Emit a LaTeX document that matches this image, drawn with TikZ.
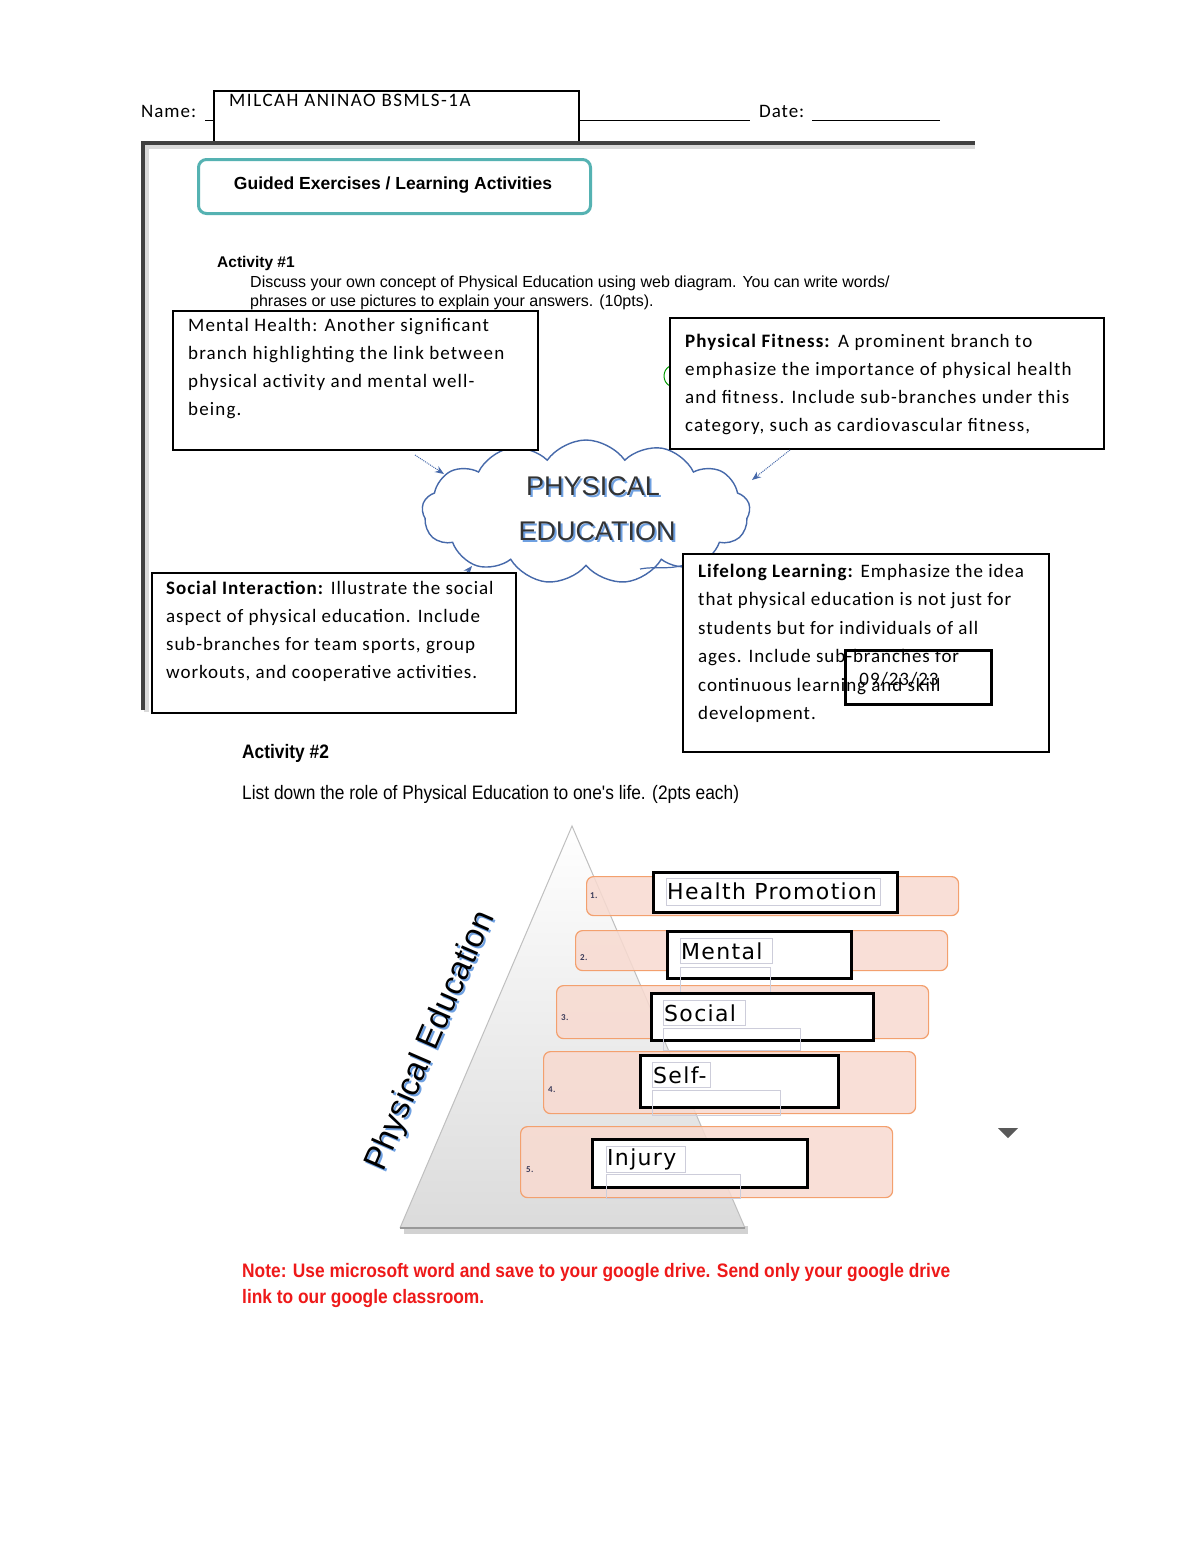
\documentclass[tikz,border=0pt]{standalone}
\usepackage{fontspec}
\setmainfont{Carlito}[LetterSpace=5]
\newfontfamily\wideCal[LetterSpace=6]{Carlito}
\newfontfamily\namefont[LetterSpace=8]{Carlito}
\newfontfamily\arialn[FakeStretch=0.89]{Liberation Sans}
\newfontfamily\arial{Liberation Sans}
\newfontfamily\dejav[LetterSpace=6]{DejaVu Sans}
\usetikzlibrary{shapes.symbols,arrows.meta}
\definecolor{teal1}{RGB}{85,178,178}
\definecolor{cloudblue}{RGB}{70,105,170}
\definecolor{shadowblue}{RGB}{110,160,225}
\definecolor{barfill}{RGB}{248,218,208}
\definecolor{barline}{RGB}{243,160,110}
\definecolor{framegray}{RGB}{205,205,218}
\definecolor{notered}{RGB}{238,25,25}
\definecolor{numblue}{RGB}{60,60,90}
\tikzset{
  wbox/.style={draw=black, line width=2.6pt, fill=white, anchor=north west, inner sep=0, outer sep=0},
  txt/.style={anchor=north west, inner sep=0, align=left, font=\fontsize{19}{28}\selectfont},
  bar/.style={draw=barline, line width=1.2pt, fill=barfill, fill opacity=0.85, rounded corners=7pt, anchor=north west, inner sep=0},
  ansbox/.style={draw=black, line width=2.6pt, fill=white, anchor=north west, inner sep=0},
  gframe/.style={draw=framegray, line width=1.3pt, anchor=north west, inner sep=0},
  anstxt/.style={anchor=west, inner sep=0, font=\dejav\fontsize{22}{24}\selectfont},
  num/.style={anchor=west, inner sep=0, font=\fontsize{9}{10}\selectfont\bfseries, text=numblue},
  dotarrow/.style={draw=cloudblue, densely dotted, line width=1pt, -{Stealth[length=9pt,width=7pt]}}
}
\begin{document}
\begin{tikzpicture}[x=1pt,y=-1pt]
\useasboundingbox[fill=white] (0,0) rectangle (1200,1553);

% header
\node[anchor=base west, inner sep=0, font=\fontsize{19}{20}\selectfont] (namelbl) at (141,117) {Name:};
\coordinate (nl1) at (205,120);
\coordinate (nl2) at (750,120);
\draw[line width=1pt] (nl1) -- (nl2);
\node[anchor=base west, inner sep=0, font=\fontsize{19}{20}\selectfont] (datelbl) at (759,117) {Date:};
\coordinate (dl1) at (812,120);
\coordinate (dl2) at (940,120);
\draw[line width=1pt] (dl1) -- (dl2);
\node[wbox, minimum width=365pt, minimum height=56pt] (namebox) at (214,91) {};
\node[anchor=north west, inner sep=0, font=\namefont\fontsize{19}{20}\selectfont] (nametxt) at (229,94) {MILCAH ANINAO BSMLS-1A};

% page border
\coordinate (pb1) at (143,710);
\coordinate (pb2) at (143,143);
\coordinate (pb3) at (975,143);
\draw[line width=5pt, gray!30] (146,712) -- (146,146) -- (975,146);
\draw[line width=3.5pt, black!75] (pb1) -- (pb2) -- (pb3);

% heading
\node[draw=teal1, line width=3pt, rounded corners=8pt, anchor=north west, minimum width=392pt, minimum height=54pt, inner sep=0] (head) at (197,158) {};
\node[inner sep=0, font=\arial\bfseries\fontsize{17.5}{20}\selectfont] (headtxt) at (393,185) {Guided Exercises / Learning Activities};

% activity 1
\node[anchor=base west, inner sep=0, font=\arial\bfseries\fontsize{15.5}{18}\selectfont] (act1) at (217,267) {Activity \#1};
\node[anchor=base west, inner sep=0, font=\arial\fontsize{16}{18}\selectfont] (act1a) at (250,287) {Discuss your own concept of Physical Education using web diagram. You can write words/};
\node[anchor=base west, inner sep=0, font=\arial\fontsize{16}{18}\selectfont] (act1b) at (250,306) {phrases or use pictures to explain your answers. (10pts).};

% cloud
\node[cloud, cloud puffs=13, cloud puff arc=110, draw=cloudblue, line width=1.4pt, fill=white, minimum width=328pt, minimum height=144pt, inner sep=0] (cloud) at (586,512) {};
\node[inner sep=0, font=\arial\fontsize{27}{30}\selectfont, text=shadowblue] at (595,488) {PHYSICAL};
\node[inner sep=0, font=\arial\fontsize{27}{30}\selectfont, text=black!80] (pe1) at (593,486) {PHYSICAL};
\node[inner sep=0, font=\arial\fontsize{27}{30}\selectfont, text=shadowblue] at (599,533) {EDUCATION};
\node[inner sep=0, font=\arial\fontsize{27}{30}\selectfont, text=black!80] (pe2) at (597,531) {EDUCATION};

% green arc
\coordinate (ga1) at (670,366);
\coordinate (ga2) at (670,386);
\draw[green!60!black, line width=1pt] (ga1) .. controls (662,370) and (662,382) .. (ga2);

% mental health
\node[wbox, minimum width=365pt, minimum height=139pt] (mh) at (173,311) {};
\node[txt, font=\wideCal\fontsize{19}{28}\selectfont] (mhtxt) at (188,318) {Mental Health: Another significant\\branch highlighting the link between\\physical activity and mental well-\\being.};

% physical fitness
\node[wbox, minimum width=434pt, minimum height=131pt] (pf) at (670,318) {};
\node[txt, font=\wideCal\fontsize{19}{28}\selectfont] (pftxt) at (685,334) {\textbf{Physical Fitness:} A prominent branch to\\emphasize the importance of physical health\\and fitness. Include sub-branches under this\\category, such as cardiovascular fitness,};

% arrows to cloud
\coordinate (a1s) at (415,455);
\coordinate (a1e) at (444,474);
\draw[dotarrow] (a1s) -- (a1e);
\coordinate (a2s) at (790,450);
\coordinate (a2e) at (752,480);
\draw[dotarrow] (a2s) -- (a2e);
\coordinate (a3s) at (462,578);
\coordinate (a3e) at (472,566);
\draw[dotarrow] (a3s) -- (a3e);
\coordinate (l1) at (640,569);
\coordinate (l2) at (684,565);
\draw[cloudblue, line width=1.2pt] (l1) .. controls (655,566) and (668,570) .. (l2);

% social interaction
\node[wbox, minimum width=364pt, minimum height=140pt] (si) at (152,573) {};
\node[txt] (sitxt) at (166,581) {\textbf{Social Interaction:} Illustrate the social\\aspect of physical education. Include\\sub-branches for team sports, group\\workouts, and cooperative activities.};

% lifelong learning
\node[wbox, minimum width=366pt, minimum height=198pt] (ll) at (683,554) {};
\node[txt, font=\fontsize{19}{28.4}\selectfont] (lltxt) at (698,564) {\textbf{Lifelong Learning:} Emphasize the idea\\that physical education is not just for\\students but for individuals of all\\ages. Include sub-branches for\\continuous learning and skill\\development.};
\node[draw=black, line width=2.6pt, anchor=north west, minimum width=146pt, minimum height=54pt, inner sep=0] (datebox) at (844,649) {};
\node[inner sep=0, font=\fontsize{19}{20}\selectfont] (datetxt) at (899,679) {09/23/23};

% activity 2
\node[anchor=base west, inner sep=0, font=\arialn\bfseries\fontsize{19.5}{22}\selectfont] (act2) at (242,758) {Activity \#2};
\node[anchor=base west, inner sep=0, font=\arialn\fontsize{19.5}{22}\selectfont] (act2a) at (242,799) {List down the role of Physical Education to one's life. (2pts each)};

% pyramid
\coordinate (apex) at (572,826);
\coordinate (bl) at (400,1228);
\coordinate (br) at (745,1228);
\fill[gray!35] (404,1226) -- (748,1226) -- (748,1234) -- (404,1234) -- cycle;
\shade[top color=white, bottom color=black!14] (apex) -- (br) -- (bl) -- cycle;
\draw[black!25, line width=1pt] (bl) -- (apex) -- (br);
\draw[black!40, line width=1.5pt] (bl) -- (br);
\node[inner sep=0, rotate=66.5, font=\arial\fontsize{33}{36}\selectfont, text=shadowblue] at (433,1043) {Physical Education};
\node[inner sep=0, rotate=66.5, font=\arial\fontsize{33}{36}\selectfont] (pyrtxt) at (431,1041) {Physical Education};

% bars
\node[bar, minimum width=372pt, minimum height=39pt] (b1) at (586,876) {};
\node[bar, minimum width=372pt, minimum height=40pt] (b2) at (575,930) {};
\node[bar, minimum width=372pt, minimum height=53pt] (b3) at (556,985) {};
\node[bar, minimum width=372pt, minimum height=62pt] (b4) at (543,1051) {};
\node[bar, minimum width=372pt, minimum height=71pt] (b5) at (520,1126) {};
\node[num] at (590,896) {1.};
\node[num] at (580,958) {2.};
\node[num] at (561,1018) {3.};
\node[num] at (548,1090) {4.};
\node[num] at (526,1170) {5.};

% answer boxes
\node[ansbox, minimum width=244pt, minimum height=40pt] (ab1) at (652,871) {};
\node[gframe, minimum width=214pt, minimum height=27pt] (gf1) at (666,878) {};
\node[anstxt] (t1) at (667,891) {Health Promotion};

\node[ansbox, minimum width=184pt, minimum height=47pt] (ab2) at (666,930) {};
\node[gframe, minimum width=92pt, minimum height=25pt] (gf2) at (680,938) {};
\node[gframe, minimum width=90pt, minimum height=25pt] (gf2b) at (680,967) {};
\node[anstxt] (t2) at (681,951) {Mental};

\node[ansbox, minimum width=222pt, minimum height=47pt] (ab3) at (650,992) {};
\node[gframe, minimum width=82pt, minimum height=25pt] (gf3) at (663,1000) {};
\node[gframe, minimum width=137pt, minimum height=22pt] (gf3b) at (663,1028) {};
\node[anstxt] (t3) at (664,1013) {Social};

\node[ansbox, minimum width=198pt, minimum height=52pt] (ab4) at (639,1054) {};
\node[gframe, minimum width=58pt, minimum height=25pt] (gf4) at (652,1062) {};
\node[gframe, minimum width=128pt, minimum height=25pt] (gf4b) at (652,1090) {};
\node[anstxt] (t4) at (653,1075) {Self-};

\node[ansbox, minimum width=215pt, minimum height=48pt] (ab5) at (591,1138) {};
\node[gframe, minimum width=79pt, minimum height=26pt] (gf5) at (606,1146) {};
\node[gframe, minimum width=134pt, minimum height=24pt] (gf5b) at (606,1174) {};
\node[anstxt] (t5) at (607,1159) {Injury};

% small triangle
\coordinate (tr1) at (998,1128);
\coordinate (tr2) at (1018,1128);
\coordinate (tr3) at (1008,1138);
\fill[black!65] (tr1) -- (tr2) -- (tr3) -- cycle;

% note
\node[anchor=base west, inner sep=0, font=\arialn\bfseries\fontsize{19.5}{22}\selectfont, text=notered] (note1) at (242,1277) {Note: Use microsoft word and save to your google drive. Send only your google drive};
\node[anchor=base west, inner sep=0, font=\arialn\bfseries\fontsize{19.5}{22}\selectfont, text=notered] (note2) at (242,1303) {link to our google classroom.};
\end{tikzpicture}
\end{document}
